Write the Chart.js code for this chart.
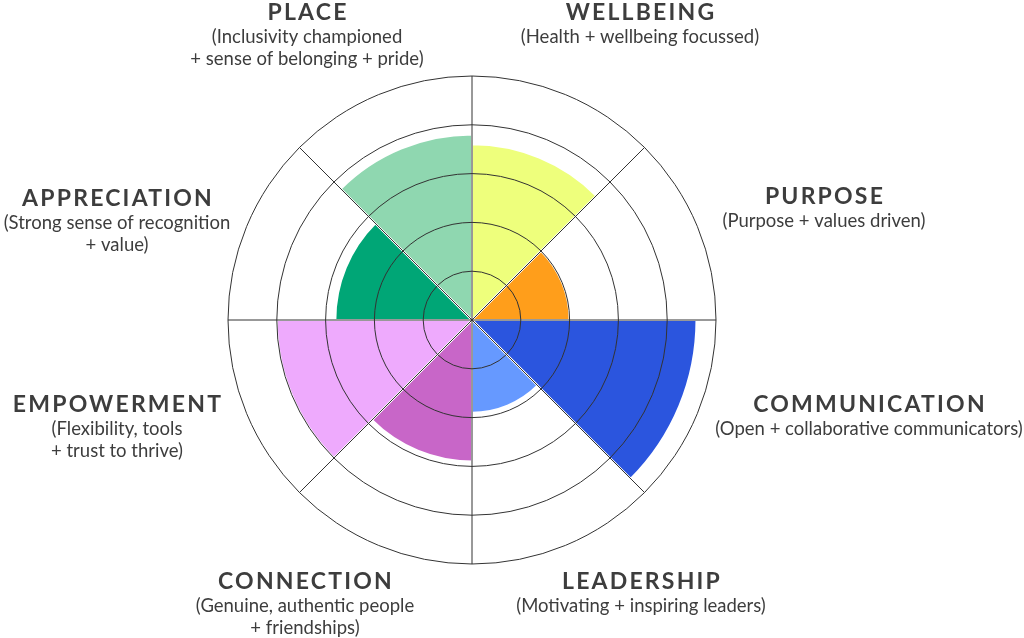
<!DOCTYPE html>
<html>
<head>
<meta charset="utf-8">
<script src="https://cdn.jsdelivr.net/npm/chart.js@4.4.1/dist/chart.umd.min.js"></script>
<style>
  html, body { margin: 0; padding: 0; background: #fff; }
  #wrap { width: 1024px; height: 638px; position: relative; }
</style>
</head>
<body>
<div id="wrap"><canvas id="chart"></canvas></div>
<script>
// segments clockwise from 12 o'clock
const categories = ['WELLBEING', 'PURPOSE', 'COMMUNICATION', 'LEADERSHIP',
  'CONNECTION', 'EMPOWERMENT', 'APPRECIATION', 'PLACE'];
const subtitles = [
  ['(Health + wellbeing focussed)'],
  ['(Purpose + values driven)'],
  ['(Open + collaborative communicators)'],
  ['(Motivating + inspiring leaders)'],
  ['(Genuine, authentic people', '+ friendships)'],
  ['(Flexibility, tools', '+ trust to thrive)'],
  ['(Strong sense of recognition', '+ value)'],
  ['(Inclusivity championed', '+ sense of belonging + pride)']
];
const scores = [3.6, 2.0, 4.6, 1.9, 2.9, 4.0, 2.8, 3.8];
const segmentColors = ['#eeff7c', '#ff9e1b', '#2b55de', '#6699ff',
  '#c866c8', '#eeaafd', '#00a676', '#8fd7b0'];
const scaleMax = 5;

// label block offsets from the chart centre (title line centre)
const labelOffsets = [
  [168, -307], [352, -123], [397, 85], [169, 262],
  [-167, 262], [-355, 85], [-355, -121], [-165, -307]
];

const outerLabels = {
  id: 'outerLabels',
  afterDraw(chart) {
    const ctx = chart.ctx;
    const r = chart.scales.r;
    ctx.save();
    ctx.fillStyle = '#3d3d3d';
    ctx.textAlign = 'center';
    ctx.textBaseline = 'middle';
    categories.forEach((name, i) => {
      const x = r.xCenter + labelOffsets[i][0];
      const y = r.yCenter + labelOffsets[i][1];
      ctx.font = 'bold 23px Lato';
      ctx.letterSpacing = '2.2px';
      ctx.fillText(name, x + 1, y);
      ctx.font = '18.5px Lato';
      ctx.letterSpacing = '0px';
      subtitles[i].forEach((line, j) => {
        ctx.fillText(line, x, y + 24 + j * 22);
      });
    });
    ctx.restore();
  }
};

new Chart(document.getElementById('chart'), {
  type: 'polarArea',
  data: {
    labels: categories,
    datasets: [{
      data: scores,
      backgroundColor: segmentColors,
      borderColor: '#ffffff',
      borderWidth: 2
    }]
  },
  options: {
    responsive: true,
    maintainAspectRatio: false,
    animation: false,
    layout: { padding: { left: 228, right: 308, top: 76, bottom: 74 } },
    plugins: {
      legend: { display: false },
      tooltip: { enabled: false }
    },
    scales: {
      r: {
        min: 0,
        max: scaleMax,
        ticks: { display: false, stepSize: 1 },
        grid: { circular: true, color: '#333333', lineWidth: 1, z: 1 },
        angleLines: { display: true, color: '#333333', lineWidth: 1 },
        pointLabels: { display: false }
      }
    }
  },
  plugins: [outerLabels]
});
</script>
</body>
</html>
